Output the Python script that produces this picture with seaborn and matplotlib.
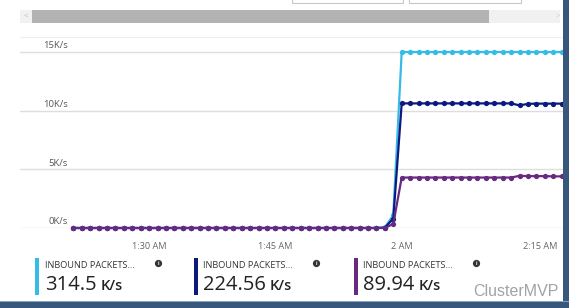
import numpy as np
import pandas as pd
import matplotlib
matplotlib.use("Agg")
import matplotlib.pyplot as plt
import matplotlib.transforms as mtransforms
from matplotlib.patches import Rectangle
from matplotlib.lines import Line2D
import seaborn as sns

# ---------------- data ----------------
# minutes after 1:00 AM, one sample per minute (1:21 AM .. 2:19 AM)
minutes = np.arange(21, 80)
series_names = ["INBOUND PACKETS A", "INBOUND PACKETS B", "INBOUND PACKETS C"]
# values in K/s
cyan_vals = [0.0, 0.0, 0.0, 0.0, 0.0, 0.0, 0.0, 0.0, 0.0, 0.0,
             0.0, 0.0, 0.0, 0.0, 0.0, 0.0, 0.0, 0.0, 0.0, 0.0,
             0.0, 0.0, 0.0, 0.0, 0.0, 0.0, 0.0, 0.0, 0.0, 0.0,
             0.0, 0.0, 0.0, 0.0, 0.0, 0.0, 0.0, 0.05, 1.1,
             15.0, 15.0, 15.0, 15.0, 15.0, 15.0, 15.0, 15.0, 15.0, 15.0,
             15.0, 15.0, 15.0, 15.0, 15.0, 15.0, 15.0, 15.0, 15.0, 15.0]
navy_vals = [0.0, 0.0, 0.0, 0.0, 0.0, 0.0, 0.0, 0.0, 0.0, 0.0,
             0.0, 0.0, 0.0, 0.0, 0.0, 0.0, 0.0, 0.0, 0.0, 0.0,
             0.0, 0.0, 0.0, 0.0, 0.0, 0.0, 0.0, 0.0, 0.0, 0.0,
             0.0, 0.0, 0.0, 0.0, 0.0, 0.0, 0.0, 0.03, 0.8,
             10.62, 10.62, 10.62, 10.62, 10.62, 10.62, 10.62, 10.62, 10.62, 10.62,
             10.62, 10.62, 10.62, 10.62, 10.45, 10.58, 10.6, 10.6, 10.6, 10.6]
purple_vals = [0.0, 0.0, 0.0, 0.0, 0.0, 0.0, 0.0, 0.0, 0.0, 0.0,
               0.0, 0.0, 0.0, 0.0, 0.0, 0.0, 0.0, 0.0, 0.0, 0.0,
               0.0, 0.0, 0.0, 0.0, 0.0, 0.0, 0.0, 0.0, 0.0, 0.0,
               0.0, 0.0, 0.0, 0.0, 0.0, 0.0, 0.0, 0.0, 0.35,
               4.3, 4.3, 4.3, 4.3, 4.3, 4.3, 4.3, 4.3, 4.3, 4.3,
               4.3, 4.3, 4.3, 4.3, 4.45, 4.42, 4.42, 4.42, 4.4, 4.4]
y_ticks = [0, 5, 10, 15]
y_tick_labels = ["0K/s", "5K/s", "10K/s", "15K/s"]
x_ticks = [30, 45, 60, 75]
x_tick_labels = ["1:30 AM", "1:45 AM", "2 AM", "2:15 AM"]
legend_titles = ["INBOUND PACKETS...", "INBOUND PACKETS...", "INBOUND PACKETS..."]
legend_numbers = ["314.5", "224.56", "89.94"]
legend_unit = "K/s"
colors = ["#34bbe6", "#0c1a80", "#682a80"]

df = pd.DataFrame({
    "minute": np.concatenate([minutes, minutes, minutes]),
    "value": cyan_vals + navy_vals + purple_vals,
    "series": [series_names[0]] * len(minutes) + [series_names[1]] * len(minutes)
              + [series_names[2]] * len(minutes),
})

# ---------------- figure ----------------
sns.set_style("white")
plt.rcParams["font.family"] = ["Open Sans", "DejaVu Sans"]

W, H = 569, 308
fig = plt.figure(figsize=(W / 100, H / 100), dpi=100)
fig.patch.set_facecolor("white")

def fx(px):
    return px / W

def fy(py):
    return 1 - py / H

ax_left, ax_right = 20, 563
ax_top, ax_bottom = 36.7, 228
ax = fig.add_axes([fx(ax_left), fy(ax_bottom), (ax_right - ax_left) / W, (ax_bottom - ax_top) / H])

sns.lineplot(data=df, x="minute", y="value", hue="series", palette=colors,
             marker="o", markersize=3.8, markeredgewidth=0, linewidth=1.6,
             legend=False, ax=ax)
for ln in ax.lines:
    ln.set_clip_on(False)

px_per_min = 8.42
ax.set_xlim(60 - (401.7 - ax_left) / px_per_min, 60 + (ax_right - 401.7) / px_per_min)
k_per_px = 15 / (228 - 52)
ax.set_ylim(0, (ax_bottom - ax_top) * k_per_px)

ax.set_xlabel("")
ax.set_ylabel("")
for s in ["left", "right", "bottom"]:
    ax.spines[s].set_visible(False)
ax.spines["top"].set_color("#efefef")
ax.spines["top"].set_linewidth(0.8)

ax.set_yticks(y_ticks)
ax.set_yticklabels(y_tick_labels)
ax.yaxis.grid(True, color="#dedede", linewidth=1.0)
ax.set_axisbelow(True)
ax.tick_params(axis="y", length=0, pad=-48 / 1.389, labelsize=6.8, labelcolor="#555555")
for lab in ax.get_yticklabels():
    lab.set_verticalalignment("bottom")
    lab.set_transform(lab.get_transform() + mtransforms.ScaledTranslation(0, 1.5 / 100, fig.dpi_scale_trans))

ax.set_xticks(x_ticks)
ax.set_xticklabels(x_tick_labels)
ax.tick_params(axis="x", length=3, width=0.8, color="#d8d8d8", pad=10 / 1.389,
               labelsize=6.6, labelcolor="#666666", direction="out")
last = ax.get_xticklabels()[-1]
last.set_transform(last.get_transform() + mtransforms.ScaledTranslation(12 / 100, 0, fig.dpi_scale_trans))

# ---------------- top scrollbar / controls ----------------
fig.add_artist(Rectangle((fx(20), fy(22.5)), fx(560) - fx(20), (22.5 - 9.8) / H,
                         transform=fig.transFigure, facecolor="#f1f1f1", edgecolor="none"))
fig.add_artist(Rectangle((fx(32), fy(22.5)), fx(489) - fx(32), (22.5 - 9.8) / H,
                         transform=fig.transFigure, facecolor="#b3b3b3", edgecolor="none"))
fig.text(fx(25.5), fy(16), "<", fontsize=6, color="#bbbbbb", ha="center", va="center")
fig.text(fx(558), fy(16), ">", fontsize=6, color="#cccccc", ha="center", va="center")
for x0, x1 in [(292, 403), (409, 521)]:
    fig.add_artist(Rectangle((fx(x0), fy(2.5)), fx(x1) - fx(x0), 4 / H,
                             transform=fig.transFigure, facecolor="white", edgecolor="#c8c8c8",
                             linewidth=0.8))

# ---------------- legend tiles ----------------
tiles_bar_x = [35, 194, 354]
tiles_text_x = [45, 203, 363]
info_x = [158, 316, 476]
for i in range(3):
    fig.add_artist(Rectangle((fx(tiles_bar_x[i]), fy(295)), 3.5 / W, (295 - 258) / H,
                             transform=fig.transFigure, facecolor=colors[i], edgecolor="none"))
    fig.text(fx(tiles_text_x[i]), fy(265), legend_titles[i], fontsize=6.6, color="#333333",
             ha="left", va="center")
    fig.add_artist(Line2D([fx(info_x[i])], [fy(263)], marker="o", markersize=5.2,
                          color="#333333", markeredgewidth=0, transform=fig.transFigure))
    fig.text(fx(info_x[i]), fy(263.2), "i", fontsize=3.6, color="white", ha="center",
             va="center", fontweight="bold")
    t = fig.text(fx(tiles_text_x[i]), fy(290.5), legend_numbers[i], fontsize=14.5,
                 color="#222222", ha="left", va="baseline")
    fig.canvas.draw()
    bb = t.get_window_extent()
    fig.text(bb.x1 / W + 4 / W, fy(290.5), legend_unit, fontsize=10.5, color="#222222",
             ha="left", va="baseline", fontweight="semibold")

fig.text(fx(559), fy(292), "ClusterMVP", fontsize=11.5, color="#a3a3a3", ha="right", va="center",
         family=["Liberation Sans", "DejaVu Sans"])

# ---------------- frame borders ----------------
fig.add_artist(Rectangle((fx(563), 0), 6 / W, 1, transform=fig.transFigure,
                         facecolor="#37577c", edgecolor="none", zorder=10))
fig.add_artist(Rectangle((0, 0), 1, 7 / H, transform=fig.transFigure,
                         facecolor="#37577c", edgecolor="none", zorder=10))
fig.add_artist(Rectangle((0, 6 / H), 1, 1.5 / H, transform=fig.transFigure,
                         facecolor="#8aa2bd", edgecolor="none", zorder=10))

fig.savefig("out.png", dpi=100, facecolor="white")
